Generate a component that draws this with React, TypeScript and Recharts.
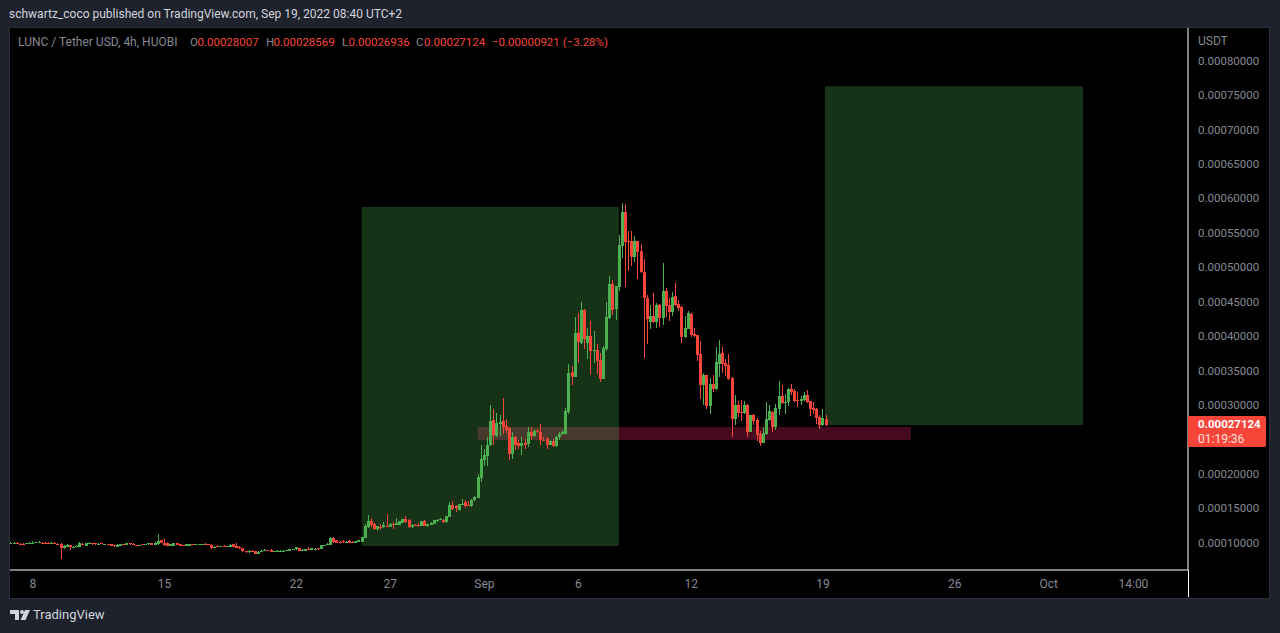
import { Bar, ComposedChart, ReferenceArea, XAxis, YAxis } from "recharts";

// bar numbers count 4h candles from Aug 8 00:00
const FIRST_BAR = -7;

// candle values in units of 0.00001 USDT
const opens = [
  10.0,10.0,10.0,9.85,9.85,9.8,9.85,9.9,9.95,10.0,
  10.0,10.0,10.0,9.8,10.0,9.85,9.85,9.15,9.35,9.6,
  9.35,9.35,9.4,9.85,9.55,9.8,9.95,9.9,9.75,9.9,
  9.8,9.8,9.75,9.65,9.4,9.5,9.75,9.7,9.95,9.85,
  9.65,9.63,9.8,9.75,9.75,9.95,9.65,9.75,10.3,10.0,
  10.0,9.55,9.55,9.9,9.75,9.65,9.55,9.55,9.75,9.7,
  9.75,9.75,9.8,9.75,9.7,9.3,9.5,9.4,9.45,9.35,
  9.4,9.75,9.5,9.4,9.2,8.7,8.55,8.75,8.75,8.35,
  8.6,8.75,8.85,8.95,8.65,8.7,8.8,8.8,8.8,8.75,
  8.85,9.0,9.15,8.95,8.8,9.05,8.95,9.1,9.15,9.05,
  9.5,9.65,9.65,10.7,10.35,10.1,10.2,10.1,10.2,10.1,
  10.0,10.1,10.1,10.7,12.2,13.1,12.75,11.9,12.25,12.2,
  12.4,12.25,12.7,12.6,12.6,12.9,13.4,13.3,12.25,12.6,
  12.5,12.4,13.1,12.4,12.6,12.75,13.1,13.35,13.3,12.95,
  13.7,15.5,15.25,14.7,15.55,15.85,15.45,15.3,16.2,16.5,
  19.4,22,22.6,24.1,27.8,25.5,27.2,27.65,26.9,26.6,
  22.8,25.4,24.4,24.05,24.4,24.3,26.1,25.5,26.2,26,
  24.9,25,24.2,24.8,24,25.4,25.7,25.8,29,34.8,
  34.1,40.5,39.05,43.8,39,40,37.9,37.9,36.5,33.75,
  38.15,42.55,47.55,43.9,47.15,53.1,58,53.85,53.8,51.5,
  53.8,52.35,49.3,45.55,42,42.9,42,44.5,42.6,46.5,
  44.5,43.5,45.8,44.65,44.2,39.85,41,43.2,40.3,40.15,
  37.4,32.9,34.35,29.85,33,32.3,36,37.55,36.1,35.8,
  33.9,27.95,30,28.95,28.8,30,26.05,28.5,27.8,25.75,
  24.45,25.75,27.8,28.95,26.8,29.4,31.3,30.25,30.4,32.3,
  32,30.7,30.55,30.7,31.45,30.55,29.55,29.4,28.25,27.05,
  28.007,
];
const highs = [
  10.05,10.05,10.05,9.9,9.9,10.0,10.05,10.2,10.1,10.2,
  10.05,10.05,10.05,10.05,10.05,9.9,9.9,9.65,9.85,9.65,
  9.45,9.6,10.1,9.95,10.0,10.1,10.0,10.0,9.95,9.95,
  9.85,9.85,9.8,9.7,9.75,9.8,9.8,10.0,10.0,9.9,
  9.7,9.7,9.85,9.85,9.95,10.0,10.05,11.2,10.35,10.45,
  10.05,9.8,9.95,9.95,9.85,9.7,9.8,9.8,9.8,9.8,
  9.8,9.82,9.95,9.8,9.8,9.5,9.65,9.5,9.65,9.5,
  9.75,9.8,9.9,9.45,9.25,8.8,8.85,8.85,8.8,8.75,
  8.85,9.0,8.9,9.0,8.8,8.85,8.85,8.85,8.9,9.05,
  9.05,9.4,9.2,9.0,9.1,9.3,9.2,9.2,9.2,9.65,
  9.7,9.9,10.75,10.8,10.4,10.2,10.3,10.15,10.3,10.15,
  10.25,10.35,10.85,12.7,14.0,13.5,12.9,12.45,12.75,13.0,
  14.15,12.8,12.95,13.5,13.15,13.4,13.8,13.4,12.65,12.7,
  12.8,13.15,13.2,12.75,12.95,13.25,13.4,13.5,13.35,13.9,
  15.9,16.0,15.45,15.65,16.3,16.2,16.05,16.3,16.8,19.9,
  24.2,23.6,25.4,30,29.4,28.8,28.5,31,28,26.8,
  26,25.5,24.9,25.4,25,26.8,26.8,26.45,26.5,27.2,
  25.4,25.4,24.9,25,25.5,26,26.35,29.6,35.9,35.6,
  42.8,43.3,44.9,43.9,41.1,42.2,40.7,38.9,37.5,38.55,
  44.95,48.7,48.1,47.3,54.7,59.3,59.2,55.25,55.25,54.5,
  53.85,53.3,51.2,45.9,44.5,46.2,44.8,44.6,50.6,47,
  45.5,46.4,47.7,45.2,44.3,42.9,43.6,43.3,41.15,40.2,
  39.25,34.6,34.4,33.9,34.3,38.4,39.4,38.4,36.65,37.4,
  34,31.45,30.55,30.7,30.55,30.1,28.5,28.6,28.1,26.2,
  26.8,30.4,30,29.1,30.1,33.45,32.9,31.6,32.4,33.05,
  32.3,31.85,31.3,31.9,32.15,30.6,30.4,29.6,28.5,29.4,
  28.569,
];
const lows = [
  9.95,9.95,9.75,9.75,9.8,9.75,9.8,9.85,9.9,9.95,
  9.9,9.9,9.75,9.75,9.8,9.75,7.6,9.1,9.3,8.95,
  9.25,9.3,9.35,9.7,9.5,9.75,9.7,9.7,9.7,9.75,
  9.75,9.7,9.45,9.4,9.35,9.45,9.65,9.65,9.7,9.6,
  9.6,9.6,9.7,9.7,9.7,9.65,9.6,9.7,9.95,9.5,
  9.5,9.5,9.5,9.65,9.5,9.5,9.5,9.5,9.65,9.65,
  9.7,9.7,9.65,9.65,9.05,9.2,9.4,9.35,9.4,9.3,
  9.35,9.4,9.2,9.1,8.65,8.5,8.5,8.7,8.3,8.3,
  8.55,8.7,8.7,8.6,8.6,8.65,8.75,8.75,8.75,8.7,
  8.85,8.95,8.8,8.9,8.75,8.95,8.9,9.05,8.95,9.0,
  9.45,9.6,9.6,10.0,9.95,10.0,10.0,10.05,9.95,10.0,
  9.95,10.05,10.1,10.65,12.15,12.3,11.75,11.6,11.75,12.1,
  12.2,12.2,12.0,12.55,12.55,12.85,12.9,12.1,12.05,12.4,
  12.25,12.35,12.35,12.3,12.55,12.7,13.05,13.3,12.9,12.9,
  13.65,14.65,14.4,14.6,15.5,15.05,15.3,15.1,16.1,16.4,
  18.85,21.15,21.15,24,24.2,25.4,25.5,25.8,25.85,22,
  22.2,23.5,23.6,22.7,23.6,23.9,24.9,25.4,25.9,24.2,
  24.7,23.6,24.1,23.9,23.9,24.9,25.6,25.7,28.65,32.9,
  34,36.1,38.9,38.15,36.65,34.5,36.1,34.5,33.3,33.7,
  37.75,42.4,43,42.3,46.6,51.3,47.1,49.45,50.2,50.8,
  48.3,49.2,36.85,38.85,41,41.9,41.15,41.35,41.6,42.8,
  42.2,42.9,44.4,43.6,39,39.7,41,39.85,39.9,36.35,
  30.85,30,29.4,28.65,31.85,32.2,34,34.6,34.2,33.6,
  25.3,27.05,28.25,27.65,28.7,25.3,26,27.05,24.75,24,
  24.4,25.6,27.7,26.05,26.35,28.5,30.1,28.65,29.8,31.45,
  30.4,29.7,30,30.6,30.3,28.4,28.7,27.2,26.5,26.9,
  26.936,
];
const closes = [
  10.0,10.0,9.8,9.8,9.8,9.95,10.0,10.0,10.05,10.05,
  9.95,9.95,9.8,10.0,9.85,9.8,9.15,9.5,9.6,9.4,
  9.4,9.5,9.95,9.75,9.9,9.95,9.75,9.75,9.85,9.8,
  9.8,9.75,9.5,9.55,9.7,9.75,9.7,10.0,9.75,9.65,
  9.63,9.65,9.75,9.8,9.9,9.7,10.0,10.25,10.0,9.6,
  9.55,9.75,9.9,9.7,9.55,9.55,9.75,9.75,9.7,9.75,
  9.78,9.78,9.75,9.7,9.25,9.4,9.45,9.45,9.4,9.45,
  9.7,9.4,9.2,9.15,8.7,8.55,8.75,8.72,8.35,8.65,
  8.75,8.95,8.75,8.65,8.75,8.8,8.82,8.82,8.87,9.0,
  9.0,9.35,8.82,8.97,9.05,9.0,9.15,9.12,9.0,9.6,
  9.65,9.75,10.7,10.05,10.0,10.05,10.05,10.1,10.0,10.05,
  10.2,10.3,10.75,12.4,13.1,12.5,12.0,12.4,12.2,12.6,
  12.2,12.7,12.65,12.8,13.1,13.35,12.95,12.25,12.6,12.45,
  12.4,13.1,12.4,12.7,12.9,13.2,13.3,13.4,12.95,13.8,
  15.5,14.85,14.95,15.6,15.65,15.3,15.3,16.2,16.6,19.5,
  22.1,22.7,24.2,27.65,25.6,27.4,27.45,26.8,26.35,22.85,
  25.4,24.2,24.05,24.4,24.2,26.1,25.5,26.2,26,24.9,
  24.8,24.2,24.8,24,25.4,25.7,26,29.15,34.6,34.1,
  40.5,39.1,43.8,39.6,40,37.8,37.95,36.4,33.75,38.25,
  42.75,47.55,43.8,47.25,53.2,58,53.7,53.7,51.5,53.8,
  52.25,49.3,45.55,42.45,42.9,42,44.5,42.6,46.5,44.35,
  43.5,45.6,44.5,44.1,39.85,41.15,43.35,40.15,40,37.25,
  32.9,34.35,29.85,33,32.3,36.2,37.4,35.95,35.65,33.75,
  27.95,30,28.8,28.8,30,26.05,28.5,27.65,25.6,24.45,
  25.9,27.95,29.1,26.8,29.55,31.3,30.25,30.4,32.3,31.85,
  30.55,30.55,30.85,31.45,30.4,29.4,29.25,28.1,27.05,28.1,
  27.124,
];

// 0.00025 sits behind the last price label in the original, so it is left out
const priceTicks = [0.0001, 0.00015, 0.0002, 0.0003, 0.00035, 0.0004, 0.00045, 0.0005, 0.00055, 0.0006, 0.00065, 0.0007, 0.00075, 0.0008];
const timeTicks = [0, 42, 84, 114, 144, 174, 210, 252, 294, 324, 351];
const timeLabels = ["8", "15", "22", "27", "Sep", "6", "12", "19", "26", "Oct", "14:00"];

const UP = "#4caf50";
const DOWN = "#f7453a";
const GRAY = "#868993";
const FONT = "Roboto, sans-serif";

const legendParts = [
  { text: "O", left: 190, color: GRAY },
  { text: "0.00028007", left: 197.5, color: DOWN },
  { text: "H", left: 266, color: GRAY },
  { text: "0.00028569", left: 273.5, color: DOWN },
  { text: "L", left: 342, color: GRAY },
  { text: "0.00026936", left: 348.5, color: DOWN },
  { text: "C", left: 416, color: GRAY },
  { text: "0.00027124", left: 424, color: DOWN },
  { text: "−0.00000921 (−3.28%)", left: 492, color: DOWN },
];

const candles = opens.map((open, i) => ({
  bar: FIRST_BAR + i,
  open: open / 1e5,
  close: closes[i] / 1e5,
  range: [lows[i] / 1e5, highs[i] / 1e5],
}));

function Candle(props: any) {
  const { x, y, width, height, payload } = props;
  const [low, high] = payload.range;
  const perPrice = height / (high - low);
  const top = y + (high - Math.max(payload.open, payload.close)) * perPrice;
  const bodyH = Math.max(1, Math.abs(payload.open - payload.close) * perPrice);
  const color = payload.close >= payload.open ? UP : DOWN;
  const left = Math.round(x);
  return (
    <g shapeRendering="crispEdges">
      <rect x={left + 1} y={y} width={1} height={Math.max(1, height)} fill={color} />
      <rect x={left} y={top} width={width} height={bodyH} fill={color} />
    </g>
  );
}

export default function App() {
  return (
    <div style={{ position: "absolute", left: 0, top: 0, width: 1280, height: 633, background: "#1e222d", overflow: "hidden", fontFamily: FONT }}>
      <div style={{ position: "absolute", left: 9, top: 7, fontSize: 12, color: "#d1d4dc", whiteSpace: "nowrap" }}>
        schwartz_coco published on TradingView.com, Sep 19, 2022 08:40 UTC+2
      </div>
      <div style={{ position: "absolute", left: 9, top: 27, width: 1259, height: 570, border: "1px solid #2a2e39", background: "#000" }} />
      <div style={{ position: "absolute", left: 10, top: 28 }}>
        <ComposedChart width={1258} height={569} data={candles} margin={{ top: 0, right: 0, bottom: 0, left: 0 }}>
          <XAxis
            dataKey="bar"
            type="number"
            domain={[-7.3, 368.4]}
            ticks={timeTicks}
            tickFormatter={(v: number) => timeLabels[timeTicks.indexOf(v)]}
            interval={0}
            height={27}
            stroke="#fff"
            tickLine={false}
            tick={{ fill: GRAY, fontSize: 12, fontFamily: FONT }}
            tickMargin={3}
            allowDataOverflow
          />
          <YAxis
            orientation="right"
            type="number"
            domain={[0.00006005, 0.0008475]}
            ticks={priceTicks}
            tickFormatter={(v: number) => v.toFixed(8)}
            interval={0}
            width={80}
            stroke="#fff"
            tickLine={false}
            tick={{ fill: GRAY, fontSize: 11.5, fontFamily: FONT }}
            tickMargin={4}
            allowDataOverflow
          />
          <ReferenceArea x1={141.9} x2={280} y1={0.0002489} y2={0.0002678} fill="#e91e63" fillOpacity={0.3} stroke="none" />
          <ReferenceArea x1={104.9} x2={186.9} y1={0.0000949} y2={0.0005874} fill={UP} fillOpacity={0.29} stroke="none" />
          <ReferenceArea x1={252.6} x2={334.9} y1={0.0002707} y2={0.000763} fill={UP} fillOpacity={0.29} stroke="none" />
          <Bar dataKey="range" barSize={3} isAnimationActive={false} shape={<Candle />} />
        </ComposedChart>
      </div>
      <div style={{ position: "absolute", left: 1188, top: 570, width: 1, height: 27, background: "#fff" }} />
      <div style={{ position: "absolute", left: 18, top: 35, fontSize: 12, color: GRAY, whiteSpace: "nowrap" }}>LUNC / Tether USD, 4h, HUOBI</div>
      {legendParts.map((p) => (
        <div key={p.left} style={{ position: "absolute", left: p.left, top: 35, fontSize: 11.5, color: p.color, whiteSpace: "nowrap" }}>
          {p.text}
        </div>
      ))}
      <div style={{ position: "absolute", left: 1198, top: 34, fontSize: 12, color: GRAY }}>USDT</div>
      <div style={{ position: "absolute", left: 1188, top: 416, width: 78, height: 31, background: DOWN, borderRadius: "0 2px 2px 0" }}>
        <div style={{ position: "absolute", left: 10, top: 1, fontSize: 11.5, fontWeight: 700, color: "#fff" }}>0.00027124</div>
        <div style={{ position: "absolute", left: 10, top: 16, fontSize: 12, color: "#ffe0dc" }}>01:19:36</div>
      </div>
      <svg style={{ position: "absolute", left: 10, top: 610 }} width={20} height={11}>
        <path d="M0 0H9V10H5V4H0Z M15 0H20L15.5 10H10.5Z" fill="#d1d4dc" />
        <circle cx={12} cy={2} r={2} fill="#d1d4dc" />
      </svg>
      <div style={{ position: "absolute", left: 33, top: 607, fontSize: 13, color: "#d1d4dc" }}>TradingView</div>
    </div>
  );
}
